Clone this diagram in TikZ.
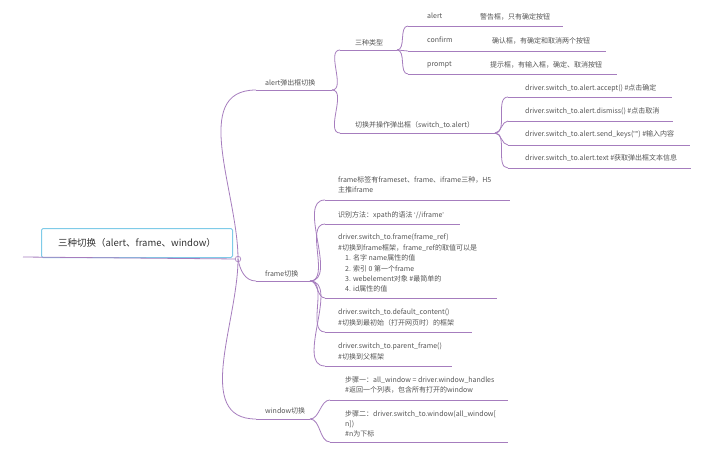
\documentclass[tikz,border=0pt]{standalone}
\usepackage{fontspec}
\setmainfont{Noto Sans CJK SC}
\newfontfamily\latq{Liberation Sans}
\begin{document}
\begin{tikzpicture}[x=1pt,y=-1pt,
  lk/.style={draw=linkc,line width=0.8pt},
  tx/.style={anchor=north west,inner sep=0pt,text=txtc,font=\fontsize{7}{10.4}\selectfont,align=left},
  cv/.style={lk,out=0,in=180,looseness=0.9}]
\definecolor{linkc}{HTML}{A67DBE}
\definecolor{txtc}{HTML}{555555}
\definecolor{boxc}{HTML}{7FCBE8}
\useasboundingbox[fill=white] (0,0) rectangle (707,461);
\newcommand{\ul}[4]{\coordinate (#1s) at (#2,#4); \coordinate (#1e) at (#3,#4); \draw[lk] (#1s) -- (#1e);}
% root
\node[draw=boxc,line width=1pt,rounded corners=1.5pt,minimum width=191pt,minimum height=29pt,anchor=north west,inner sep=0pt,font=\fontsize{9.5}{11}\selectfont,text=black!80] (root) at (41,228) {三种切换（alert、frame、window）};
\coordinate (rs) at (23,257);
\coordinate (rc) at (238,259);
\draw[lk] (rs) -- (rc);
\draw[linkc,fill=white,line width=0.6pt] (rc) circle (2.8);
% level1
\ul{A}{256}{332}{90}
\node[tx] (ta) at (265,79) {alert弹出框切换};
\ul{F}{256}{310}{281}
\node[tx] (tf) at (265,270) {frame切换};
\ul{W}{256}{310}{419}
\node[tx] (tw) at (265,407) {window切换};
\draw[lk] (rc) to[out=90,in=180,looseness=1] (As);
\draw[lk] (rc) to[out=-80,in=180,looseness=1] (Fs);
\draw[lk] (rc) to[out=-90,in=180,looseness=1] (Ws);
% alert
\ul{T}{340}{397}{50}
\node[tx] (tt) at (355,39) {三种类型};
\ul{S}{340}{495}{133}
\node[tx] (ts) at (355,121) {切换并操作弹出框（switch\_to.alert）};
\draw[cv] (Ae) to (Ts);
\draw[cv] (Ae) to (Ss);
\ul{a1}{408}{563}{26}
\node[tx] (t1) at (427,13) {alert};
\node[tx] (t1b) at (480,13) {警告框，只有确定按钮};
\ul{a2}{408}{606}{51}
\node[tx] (t2) at (427,37) {confirm};
\node[tx] (t2b) at (492,37) {确认框，有确定和取消两个按钮};
\ul{a3}{408}{617}{74}
\node[tx] (t3) at (427,61) {prompt};
\node[tx] (t3b) at (490,61) {提示框，有输入框，确定、取消按钮};
\foreach \c in {a1,a2,a3} \draw[cv] (Te) to (\c s);
\ul{d1}{508}{672}{97}
\node[tx] (u1) at (525,84) {driver.switch\_to.alert.accept() \#点击确定};
\ul{d2}{508}{673}{121}
\node[tx] (u2) at (525,107) {driver.switch\_to.alert.dismiss() \#点击取消};
\ul{d3}{508}{690}{145}
\node[tx] (u3) at (525,130) {driver.switch\_to.alert.send\_keys({\latq\char"22\char"22}) \#输入内容};
\ul{d4}{508}{691}{168}
\node[tx] (u4) at (525,154) {driver.switch\_to.alert.text \#获取弹出框文本信息};
\foreach \c in {d1,d2,d3,d4} \draw[cv] (Se) to (\c s);
% frame
\ul{f1}{325}{510}{200}
\node[tx] (g1) at (338,176) {frame标签有frameset、frame、iframe三种，H5\\主推iframe};
\ul{f2}{325}{460}{224}
\node[tx] (g2) at (338,211) {识别方法：xpath的语法 {\latq ‘}//iframe{\latq ’}};
\ul{f3}{325}{497}{298}
\node[tx] (g3) at (338,234) {driver.switch\_to.frame(frame\_ref)\\\#切换到frame框架，frame\_ref的取值可以是\\\hspace*{7pt}1. 名字 name属性的值\\\hspace*{7pt}2. 索引 0  第一个frame\\\hspace*{7pt}3. webelement对象 \#最简单的\\\hspace*{7pt}4. id属性的值};
\ul{f4}{325}{472}{332}
\node[tx] (g4) at (338,309) {driver.switch\_to.default\_content()\\\#切换到最初始（打开网页时）的框架};
\ul{f5}{325}{452}{366}
\node[tx] (g5) at (338,343) {driver.switch\_to.parent\_frame()\\\#切换到父框架};
\foreach \c in {f1,f2,f3,f4,f5} \draw[cv] (Fe) to (\c s);
% window
\ul{w1}{330}{508}{400}
\node[tx] (h1) at (345,376) {步骤一：all\_window = driver.window\_handles\\\#返回一个列表，包含所有打开的window};
\ul{w2}{330}{508}{442}
\node[tx] (h2) at (345,410) {步骤二：driver.switch\_to.window(all\_window[\\n])\\\#n为下标};
\foreach \c in {w1,w2} \draw[cv] (We) to (\c s);
\end{tikzpicture}
\end{document}
